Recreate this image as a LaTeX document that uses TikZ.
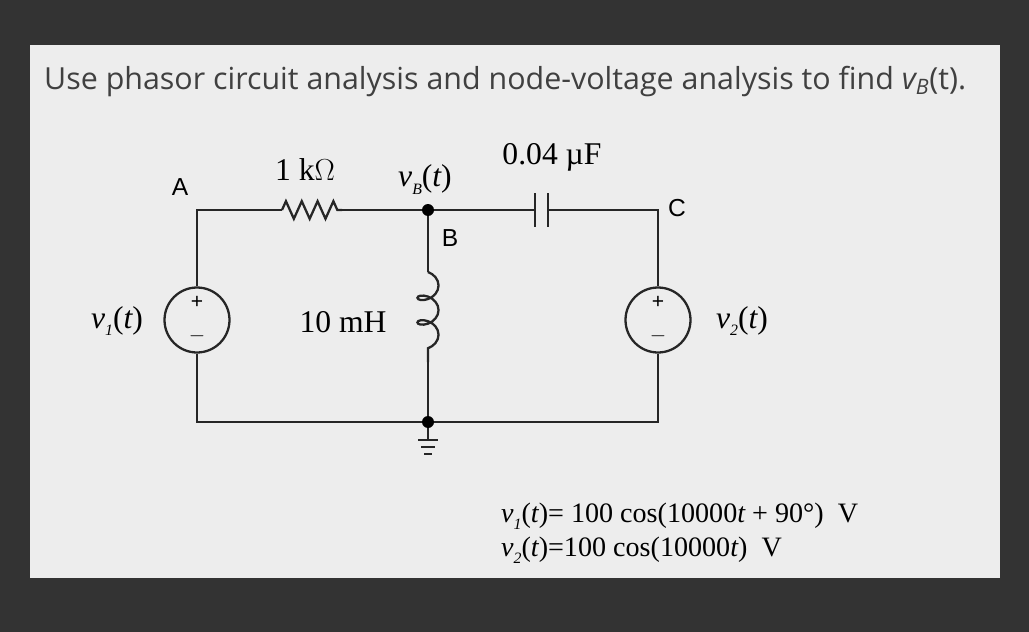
\documentclass[tikz,border=0pt]{standalone}
\usepackage{fontspec}
\setmainfont{Liberation Serif}
\newfontfamily\titlefont{Open Sans}
\newfontfamily\lblfont{Liberation Sans}
\usetikzlibrary{decorations.pathmorphing}
\newcommand{\vv}[1]{{\itshape v}\raisebox{-0.25em}{\small\itshape #1}({\itshape t})}
\begin{document}
\begin{tikzpicture}[x=0.02cm,y=-0.02cm,
  wire/.style={line width=1.3pt,black!85},
  lbl/.style={font=\fontsize{18}{20}\selectfont},
  sl/.style={font=\lblfont\fontsize{14}{16}\selectfont},
  eq/.style={font=\fontsize{16}{19}\selectfont,anchor=west}]
\fill[black!80] (0,0) rectangle (1029,632);
\fill[black!7] (30,45) rectangle (1000,578);
% title
\node[anchor=west,font=\titlefont\fontsize{17.3}{20}\selectfont,black!75] (title) at (38,82) {Use phasor circuit analysis and node-voltage analysis to find {\itshape v\textsubscript{B}}(t).};
% coordinates
\coordinate (A) at (197,210);
\coordinate (B) at (428,210);
\coordinate (C) at (658,210);
\coordinate (D) at (197,422);
\coordinate (G) at (428,422);
\coordinate (E) at (658,422);
% sources
\node[draw,wire,circle,minimum size=1.3cm,inner sep=0] (s1) at (197,320) {};
\node[draw,wire,circle,minimum size=1.3cm,inner sep=0] (s2) at (658,320) {};
\node[font=\lblfont\fontsize{12}{12}\selectfont] at (197,302) {+};
\node[font=\lblfont\fontsize{12}{12}\selectfont] at (197,336) {$-$};
\node[font=\lblfont\fontsize{12}{12}\selectfont] at (658,302) {+};
\node[font=\lblfont\fontsize{12}{12}\selectfont] at (658,336) {$-$};
% wires
\draw[wire] (s1.north) -- (A) -- (282,210);
\draw[wire,decorate,decoration={zigzag,segment length=9,amplitude=5}] (282,210) -- (342,210);
\draw[wire] (342,210) -- (B) -- (535,210);
\draw[wire] (535,193) -- (535,227) (548,193) -- (548,227);
\draw[wire] (548,210) -- (C) -- (s2.north);
\draw[wire] (s1.south) -- (D) -- (G) -- (E) -- (s2.south);
\draw[wire] (B) -- (428,272);
\draw[wire,decorate,decoration={coil,aspect=0.7,segment length=14,amplitude=6}] (428,272) -- (428,362);
\draw[wire] (428,362) -- (G) -- (428,440);
\draw[wire] (418,440) -- (438,440) (421,447) -- (435,447) (424,454) -- (432,454);
\fill (B) circle (6);
\fill (G) circle (6);
% labels
\node[sl] at (180,187) {A};
\node[sl] at (677,208) {C};
\node[sl] at (450,238) {B};
\node[lbl] at (305,170) {1 k$\Omega$};
\node[lbl] at (425,180) {\vv{B}};
\node[lbl] at (552,157) {0.04 µF};
\node[lbl] at (117,321) {\vv{1}};
\node[lbl] at (343,322) {10 mH};
\node[lbl] at (742,321) {\vv{2}};
\node[eq] at (495,516) {\vv{1}= 100 cos(10000{\itshape t} + 90°)\ \ V};
\node[eq] at (495,550) {\vv{2}=100 cos(10000{\itshape t})\ \ V};
\end{tikzpicture}
\end{document}
